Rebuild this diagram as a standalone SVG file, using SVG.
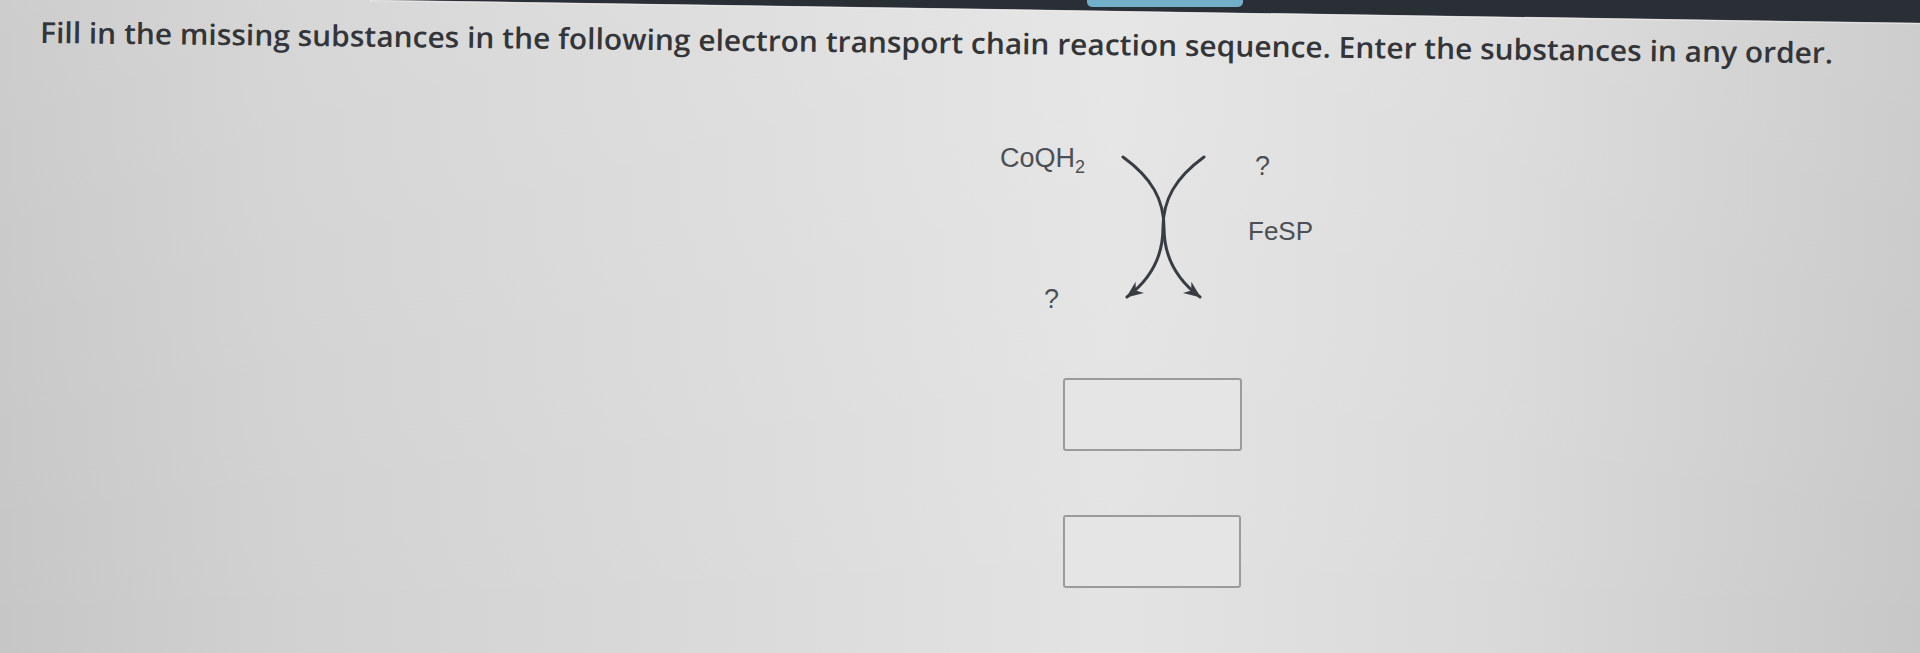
<svg xmlns="http://www.w3.org/2000/svg" width="1920" height="653" viewBox="0 0 1920 653">
  <defs>
    <linearGradient id="bg" x1="0" y1="0" x2="1" y2="0">
      <stop offset="0" stop-color="#c6c6c6"/>
      <stop offset="0.15" stop-color="#d1d1d1"/>
      <stop offset="0.4" stop-color="#dbdbdb"/>
      <stop offset="0.58" stop-color="#e3e3e3"/>
      <stop offset="0.78" stop-color="#d9d9d9"/>
      <stop offset="1" stop-color="#c7c7c7"/>
    </linearGradient>
    <linearGradient id="bgv" x1="0" y1="0" x2="0" y2="1">
      <stop offset="0" stop-color="#ffffff" stop-opacity="0.12"/>
      <stop offset="1" stop-color="#ffffff" stop-opacity="0"/>
    </linearGradient>
    <marker id="head" viewBox="-18 -9 20 18" refX="0" refY="0" markerWidth="20" markerHeight="18" markerUnits="userSpaceOnUse" orient="auto">
      <path d="M1,0 L-16,-7 L-11,0 L-16,7 Z" fill="#383d44"/>
    </marker>
  </defs>
  <style>
    .label { font-family: "Liberation Sans", Arial, sans-serif; fill: #4c4f54; }
    .box { fill: #e5e5e5; stroke: #9b9b9b; stroke-width: 2; }
    .arc { fill: none; stroke: #383d44; stroke-width: 3; stroke-linecap: round; marker-end: url(#head); }
  </style>

  <rect x="0" y="0" width="1920" height="653" fill="url(#bg)"/>
  <rect x="0" y="0" width="1920" height="653" fill="url(#bgv)"/>

  <!-- dark top bar -->
  <polygon points="370,0 1920,0 1920,23" fill="#2a2e35"/>
  <line x1="370" y1="0.5" x2="1920" y2="23.5" stroke="#f0f0f0" stroke-width="1.5" opacity="0.6"/>
  <rect x="1087" y="-6" width="156" height="13" rx="5" fill="#7fc6e2" opacity="0.85"/>

  <!-- title -->
  <text transform="rotate(0.65 40 43)" x="40" y="43" font-family="'Open Sans', 'Liberation Sans', sans-serif" font-weight="600" font-size="29" fill="#333539" textLength="1793" lengthAdjust="spacingAndGlyphs">Fill in the missing substances in the following electron transport chain reaction sequence. Enter the substances in any order.</text>

  <g id="connectors">
    <path class="arc" d="M1123,157 C1152,178 1164,200 1164,228 C1164,256 1176,279 1200,297"/>
    <path class="arc" d="M1204,157 C1175,178 1163,200 1163,228 C1163,256 1151,279 1127,297"/>
  </g>

  <g id="node-coqh2">
    <text class="label" x="1000" y="167" font-size="27">CoQH<tspan font-size="18" dy="6">2</tspan></text>
  </g>
  <g id="node-q-top">
    <text class="label" x="1255" y="175" font-size="27">?</text>
  </g>
  <g id="node-fesp">
    <text class="label" x="1248" y="240" font-size="26">FeSP</text>
  </g>
  <g id="node-q-bottom">
    <text class="label" x="1044" y="308" font-size="27">?</text>
  </g>

  <g id="answer-box-1">
    <rect class="box" x="1064" y="379" width="177" height="71" rx="2"/>
  </g>
  <g id="answer-box-2">
    <rect class="box" x="1064" y="516" width="176" height="71" rx="2"/>
  </g>
</svg>
